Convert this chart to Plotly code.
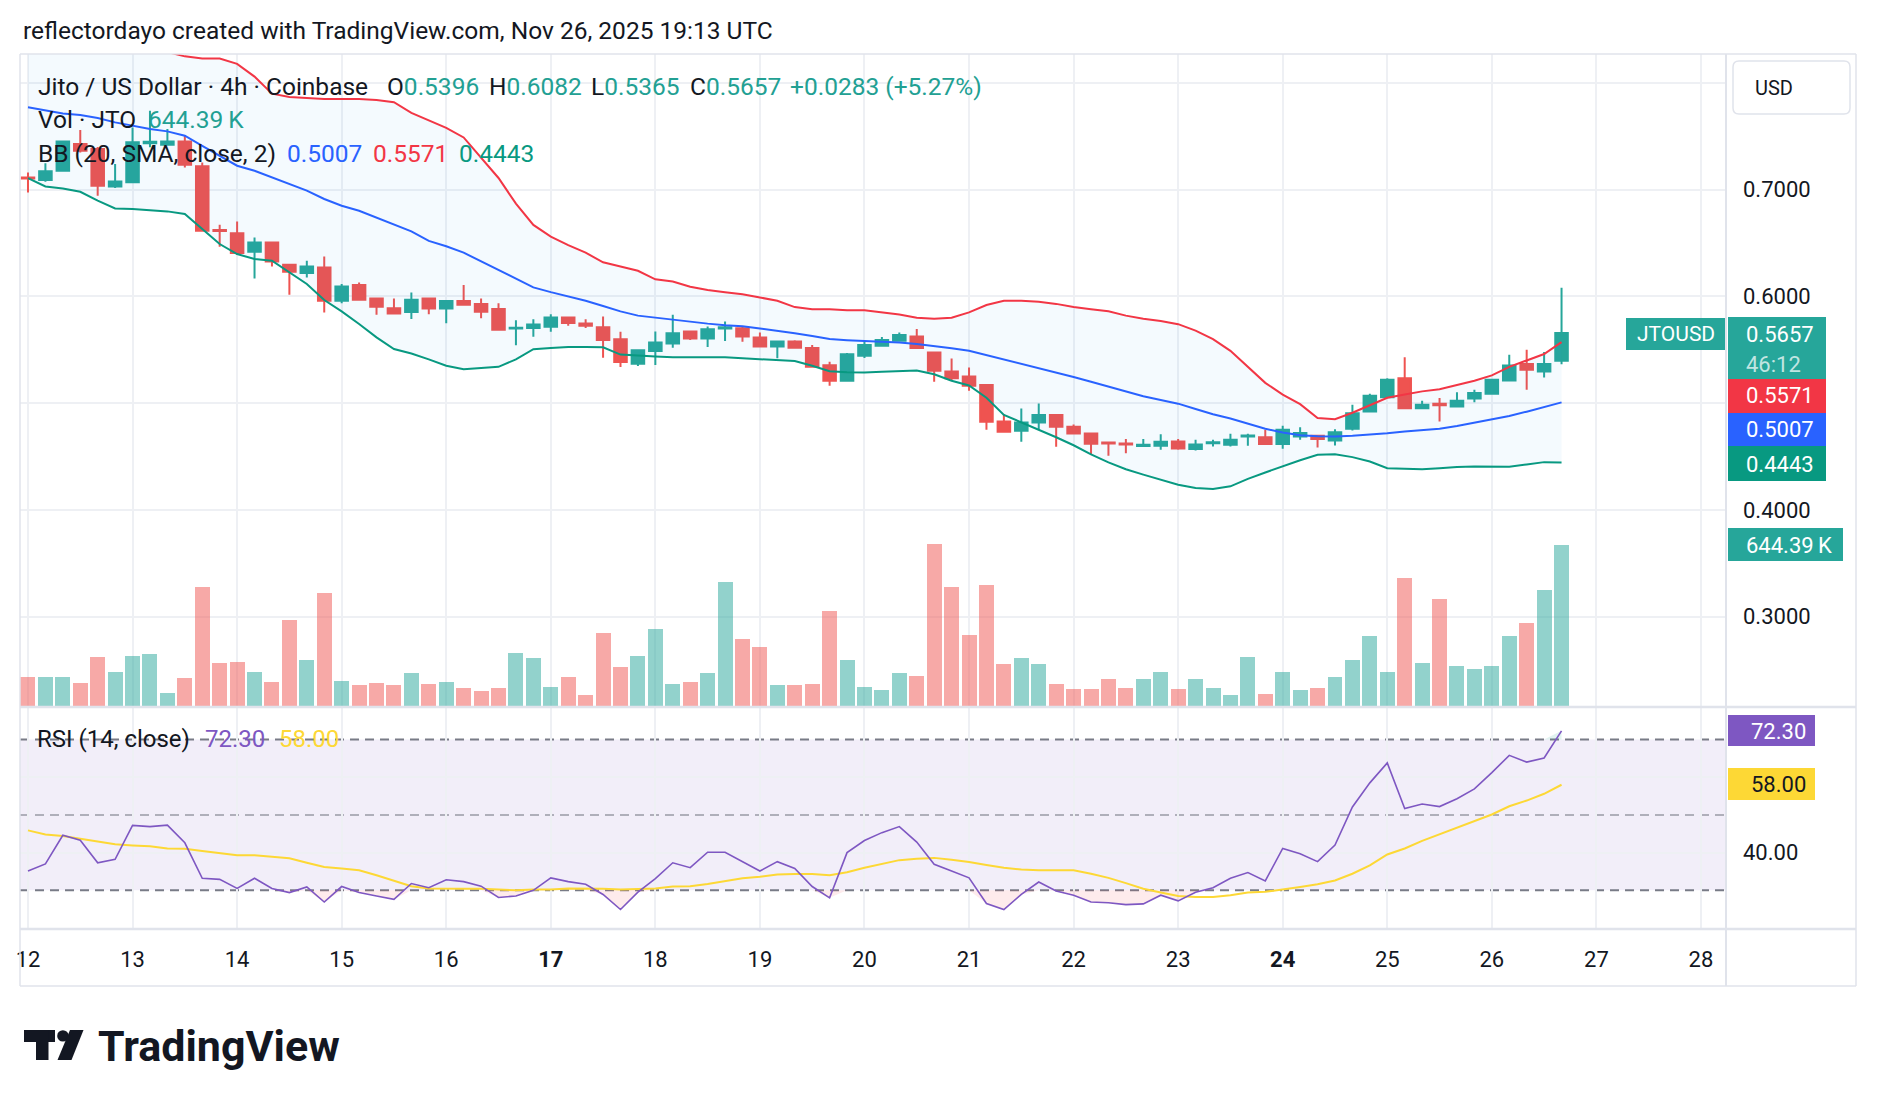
import plotly.graph_objects as go
import pandas as pd

# ---------------- data ----------------
times = pd.date_range("2025-11-12 00:00", periods=89, freq="4h")

opens = [0.7115, 0.7090, 0.7178, 0.7428, 0.7381, 0.7031, 0.7069, 0.7436, 0.7422, 0.7453,
         0.7219, 0.6622, 0.6591, 0.6419, 0.6506, 0.6297, 0.6219, 0.6272, 0.5960, 0.6107,
         0.5981, 0.5888, 0.5853, 0.5981, 0.5887, 0.5956, 0.5928, 0.5881, 0.5699, 0.5705,
         0.5715, 0.5803, 0.5746, 0.5712, 0.5599, 0.5370, 0.5489, 0.5558, 0.5671, 0.5605,
         0.5699, 0.5702, 0.5614, 0.5530, 0.5577, 0.5516, 0.5356, 0.5209, 0.5444, 0.5538,
         0.5584, 0.5625, 0.5475, 0.5297, 0.5250, 0.5169, 0.4828, 0.4741, 0.4819, 0.4888,
         0.4778, 0.4716, 0.4631, 0.4622, 0.4597, 0.4600, 0.4641, 0.4570, 0.4625, 0.4609,
         0.4688, 0.4681, 0.4616, 0.4688, 0.4694, 0.4650, 0.4759, 0.4922, 0.5056, 0.5234,
         0.4953, 0.4994, 0.4969, 0.5044, 0.5088, 0.5213, 0.5366, 0.5297, 0.5396]
highs = [0.7162, 0.7247, 0.7462, 0.7560, 0.7400, 0.7240, 0.7584, 0.7740, 0.7569, 0.7506,
         0.7256, 0.6672, 0.6703, 0.6553, 0.6510, 0.6300, 0.6334, 0.6375, 0.6116, 0.6131,
         0.5981, 0.5981, 0.6036, 0.5981, 0.5966, 0.6107, 0.5981, 0.5937, 0.5777, 0.5787,
         0.5834, 0.5803, 0.5787, 0.5812, 0.5668, 0.5505, 0.5671, 0.5828, 0.5677, 0.5718,
         0.5765, 0.5718, 0.5661, 0.5577, 0.5589, 0.5544, 0.5388, 0.5469, 0.5584, 0.5619,
         0.5663, 0.5694, 0.5475, 0.5419, 0.5334, 0.5178, 0.4897, 0.4950, 0.4997, 0.4888,
         0.4800, 0.4716, 0.4631, 0.4663, 0.4663, 0.4709, 0.4663, 0.4656, 0.4656, 0.4713,
         0.4713, 0.4750, 0.4788, 0.4775, 0.4694, 0.4756, 0.4984, 0.5088, 0.5234, 0.5431,
         0.5022, 0.5047, 0.5103, 0.5125, 0.5228, 0.5453, 0.5500, 0.5478, 0.6082]
lows = [0.6975, 0.7075, 0.7175, 0.7350, 0.6944, 0.7016, 0.7062, 0.7397, 0.7412, 0.7209,
        0.6612, 0.6466, 0.6388, 0.6169, 0.6281, 0.6016, 0.6178, 0.5850, 0.5935, 0.5969,
        0.5829, 0.5841, 0.5788, 0.5834, 0.5749, 0.5922, 0.5796, 0.5687, 0.5542, 0.5621,
        0.5668, 0.5724, 0.5705, 0.5426, 0.5339, 0.5348, 0.5357, 0.5520, 0.5592, 0.5527,
        0.5583, 0.5574, 0.5530, 0.5420, 0.5520, 0.5341, 0.5163, 0.5209, 0.5422, 0.5528,
        0.5575, 0.5516, 0.5200, 0.5216, 0.5116, 0.4750, 0.4731, 0.4638, 0.4756, 0.4591,
        0.4716, 0.4513, 0.4506, 0.4531, 0.4597, 0.4563, 0.4563, 0.4556, 0.4594, 0.4594,
        0.4600, 0.4616, 0.4572, 0.4656, 0.4584, 0.4603, 0.4744, 0.4922, 0.5056, 0.4953,
        0.4944, 0.4828, 0.4969, 0.5009, 0.5088, 0.5213, 0.5125, 0.5241, 0.5365]
closes = [0.7105, 0.7172, 0.7453, 0.7365, 0.7037, 0.7078, 0.7444, 0.7450, 0.7453, 0.7234,
          0.6616, 0.6612, 0.6406, 0.6506, 0.6328, 0.6231, 0.6281, 0.5960, 0.6094, 0.5969,
          0.5903, 0.5841, 0.5968, 0.5887, 0.5956, 0.5922, 0.5856, 0.5687, 0.5706, 0.5737,
          0.5803, 0.5752, 0.5724, 0.5592, 0.5386, 0.5495, 0.5567, 0.5655, 0.5605, 0.5693,
          0.5712, 0.5624, 0.5530, 0.5577, 0.5520, 0.5341, 0.5209, 0.5459, 0.5544, 0.5591,
          0.5638, 0.5516, 0.5303, 0.5234, 0.5163, 0.4825, 0.4731, 0.4819, 0.4888, 0.4778,
          0.4716, 0.4619, 0.4622, 0.4613, 0.4609, 0.4638, 0.4575, 0.4612, 0.4634, 0.4656,
          0.4697, 0.4616, 0.4750, 0.4719, 0.4663, 0.4728, 0.4906, 0.5069, 0.5219, 0.4953,
          0.4984, 0.4981, 0.5022, 0.5094, 0.5219, 0.5353, 0.5313, 0.5366, 0.5657]
volume_k = [119, 119, 119, 95, 200, 138, 205, 210, 57, 115,
            477, 177, 181, 138, 100, 348, 186, 453, 105, 86,
            95, 86, 134, 91, 100, 76, 62, 76, 215, 196,
            81, 119, 48, 296, 158, 205, 310, 91, 100, 134,
            496, 272, 239, 86, 86, 91, 382, 186, 81, 67,
            134, 124, 649, 477, 286, 487, 172, 196, 172, 91,
            72, 72, 110, 76, 110, 138, 72, 110, 76, 48,
            200, 53, 138, 67, 76, 119, 186, 282, 138, 515,
            177, 430, 162, 153, 162, 282, 334, 468, 644.39]
bb_upper = [0.843, 0.845, 0.842, 0.842, 0.845, 0.844, 0.838, 0.833, 0.829, 0.825,
            0.823, 0.823, 0.818, 0.806, 0.790, 0.787, 0.786, 0.785, 0.785, 0.785,
            0.784, 0.782, 0.772, 0.765, 0.758, 0.749, 0.730, 0.711, 0.687, 0.667,
            0.656, 0.648, 0.641, 0.632, 0.628, 0.624, 0.616, 0.614, 0.609, 0.606,
            0.604, 0.602, 0.599, 0.596, 0.590, 0.588, 0.588, 0.587, 0.587, 0.585,
            0.583, 0.580, 0.579, 0.580, 0.585, 0.592, 0.596, 0.596, 0.595, 0.593,
            0.590, 0.588, 0.586, 0.582, 0.579, 0.577, 0.574, 0.568, 0.560, 0.549,
            0.534, 0.519, 0.508, 0.499, 0.486, 0.485, 0.491, 0.498, 0.505, 0.508,
            0.511, 0.513, 0.517, 0.521, 0.526, 0.534, 0.540, 0.546, 0.5571]
bb_basis = [0.7772, 0.7740, 0.7715, 0.7700, 0.7672, 0.7631, 0.7600, 0.7569, 0.7547, 0.7506,
            0.7412, 0.7319, 0.7225, 0.7178, 0.7116, 0.7053, 0.6991, 0.6913, 0.6850, 0.6803,
            0.6741, 0.6678, 0.6610, 0.6520, 0.6470, 0.6410, 0.6330, 0.6250, 0.6170, 0.6085,
            0.6040, 0.6000, 0.5960, 0.5910, 0.5860, 0.5820, 0.5800, 0.5780, 0.5760, 0.5745,
            0.5730, 0.5720, 0.5700, 0.5680, 0.5655, 0.5630, 0.5600, 0.5590, 0.5583, 0.5576,
            0.5569, 0.5553, 0.5535, 0.5515, 0.5490, 0.5450, 0.5410, 0.5370, 0.5330, 0.5290,
            0.5245, 0.5200, 0.5155, 0.5110, 0.5065, 0.5030, 0.4995, 0.4945, 0.4895, 0.4855,
            0.4805, 0.4760, 0.4725, 0.4700, 0.4690, 0.4688, 0.4695, 0.4705, 0.4718, 0.4735,
            0.4745, 0.4760, 0.4785, 0.4815, 0.4845, 0.4880, 0.4920, 0.4960, 0.5007]
bb_lower = [0.7109, 0.7031, 0.7012, 0.6981, 0.6897, 0.6825, 0.6819, 0.6809, 0.6797, 0.6772,
            0.6631, 0.6491, 0.6397, 0.6350, 0.6335, 0.6225, 0.6116, 0.5966, 0.5860, 0.5741,
            0.5616, 0.5507, 0.5465, 0.5410, 0.5350, 0.5317, 0.5325, 0.5340, 0.5410, 0.5505,
            0.5517, 0.5527, 0.5526, 0.5524, 0.5455, 0.5443, 0.5437, 0.5430, 0.5430, 0.5430,
            0.5430, 0.5420, 0.5410, 0.5406, 0.5395, 0.5350, 0.5298, 0.5290, 0.5288, 0.5295,
            0.5302, 0.5305, 0.5270, 0.5210, 0.5165, 0.5050, 0.4890, 0.4820, 0.4756, 0.4680,
            0.4605, 0.4520, 0.4444, 0.4380, 0.4330, 0.4280, 0.4235, 0.4205, 0.4195, 0.4220,
            0.4290, 0.4350, 0.4410, 0.4465, 0.4515, 0.4520, 0.4494, 0.4453, 0.4390, 0.4383,
            0.4381, 0.4390, 0.4402, 0.4406, 0.4406, 0.4404, 0.4425, 0.4447, 0.4443]
rsi = [35.1, 37.0, 44.6, 43.3, 37.3, 38.2, 47.2, 46.9, 47.3, 42.6,
       33.2, 32.9, 30.5, 33.2, 30.5, 29.4, 30.9, 26.9, 31.0, 29.4,
       28.5, 27.6, 31.8, 30.7, 32.8, 32.3, 31.1, 28.1, 28.5, 30.0,
       33.3, 32.3, 31.6, 28.9, 24.9, 29.5, 33.1, 37.3, 36.0, 40.1,
       40.1, 37.6, 35.1, 37.6, 35.8, 31.0, 28.0, 40.0, 43.2, 45.3,
       46.9, 42.8, 36.9, 35.1, 33.3, 26.5, 24.9, 28.9, 32.2, 29.8,
       28.7, 26.9, 26.7, 26.2, 26.4, 28.7, 27.2, 29.5, 30.7, 33.2,
       34.7, 32.5, 41.1, 39.7, 37.6, 42.0, 52.1, 58.5, 63.8, 51.7,
       52.9, 52.2, 54.3, 56.9, 61.2, 65.8, 64.0, 65.1, 72.3]
rsi_ma = [45.9, 44.8, 44.4, 43.7, 42.8, 42.2, 41.9, 41.7, 41.1, 41.0,
          40.4, 39.8, 39.3, 39.3, 38.9, 38.5, 37.3, 36.2, 35.8, 35.3,
          34.0, 32.5, 31.1, 30.5, 30.4, 30.4, 30.4, 30.2, 30.0, 30.2,
          30.2, 30.5, 30.5, 30.4, 30.2, 30.4, 30.5, 31.0, 31.1, 31.7,
          32.4, 33.2, 33.6, 34.2, 34.3, 34.3, 34.0, 34.8, 36.0, 37.0,
          38.0, 38.4, 38.6, 38.1, 37.5, 36.7, 36.0, 35.5, 35.3, 35.3,
          35.3, 34.4, 33.3, 31.9, 30.4, 29.4, 28.5, 28.2, 28.2, 28.7,
          29.4, 29.6, 30.2, 30.9, 31.6, 32.6, 34.4, 36.6, 39.5, 41.1,
          43.1, 44.8, 46.6, 48.4, 50.1, 52.3, 53.8, 55.6, 58.0]

day_ticks = pd.date_range("2025-11-12", "2025-11-28", freq="D")
day_labels = ["12", "13", "14", "15", "16", "<b>17</b>", "18", "19", "20",
              "21", "22", "23", "<b>24</b>", "25", "26", "27", "28"]
price_ticks = [0.3, 0.4, 0.5, 0.6, 0.7, 0.8]
price_labels = ["0.3000", "0.4000", "", "0.6000", "0.7000", ""]
rsi_ticks = [40, 60]
rsi_labels = ["40.00", ""]

# ---------------- styling / layout ----------------
W, H = 1878, 1106
PL, PR, PT, PB = 20, 1726, 54, 928          # plot area edges in pixels
SPLIT = 707                                   # pane separator
FONT = "Roboto, 'Open Sans', sans-serif"
TXT = "#131722"
UP, DN = "#26a69a", "#ef5350"
GRID = "#eef0f4"
FRAME = "#e0e3eb"
LEG = 24.5


def fx(px):
    return (px - PL) / (PR - PL)


def fy(py):
    return (PB - py) / (PB - PT)


fig = go.Figure()

# Bollinger bands
fig.add_trace(go.Scatter(x=times, y=bb_upper, mode="lines",
                         line=dict(color="#F23645", width=2), hoverinfo="skip"))
fig.add_trace(go.Scatter(x=times, y=bb_lower, mode="lines", fill="tonexty",
                         fillcolor="rgba(33,150,243,0.05)",
                         line=dict(color="#089981", width=2), hoverinfo="skip"))
fig.add_trace(go.Scatter(x=times, y=bb_basis, mode="lines",
                         line=dict(color="#2962FF", width=2), hoverinfo="skip"))

# candles
fig.add_trace(go.Candlestick(
    x=times, open=opens, high=highs, low=lows, close=closes,
    increasing=dict(line=dict(color=UP, width=2), fillcolor=UP),
    decreasing=dict(line=dict(color=DN, width=2), fillcolor=DN),
    whiskerwidth=0))

# volume (overlay axis)
vol_colors = ["rgba(38,166,154,0.5)" if c >= o else "rgba(239,83,80,0.5)"
              for o, c in zip(opens, closes)]
fig.add_trace(go.Bar(x=times, y=volume_k, marker=dict(color=vol_colors, line=dict(width=0)),
                     width=0.86 * 4 * 3600 * 1000, yaxis="y3", hoverinfo="skip"))

# RSI pane
rsi_low_fill = [min(v, 30) for v in rsi]
rsi_high_fill = [max(v, 70) for v in rsi]
fig.add_trace(go.Scatter(x=times, y=[30] * len(rsi), yaxis="y2", mode="lines",
                         line=dict(width=0), hoverinfo="skip"))
fig.add_trace(go.Scatter(x=times, y=rsi_low_fill, yaxis="y2", mode="lines", fill="tonexty",
                         fillcolor="rgba(242,54,69,0.10)", line=dict(width=0), hoverinfo="skip"))
fig.add_trace(go.Scatter(x=times, y=[70] * len(rsi), yaxis="y2", mode="lines",
                         line=dict(width=0), hoverinfo="skip"))
fig.add_trace(go.Scatter(x=times, y=rsi_high_fill, yaxis="y2", mode="lines", fill="tonexty",
                         fillcolor="rgba(8,153,129,0.12)", line=dict(width=0), hoverinfo="skip"))
fig.add_trace(go.Scatter(x=times, y=rsi_ma, yaxis="y2", mode="lines",
                         line=dict(color="#FDD835", width=2), hoverinfo="skip"))
fig.add_trace(go.Scatter(x=times, y=rsi, yaxis="y2", mode="lines",
                         line=dict(color="#7E57C2", width=1.6), hoverinfo="skip"))

shapes = []
# RSI background band and level lines
shapes.append(dict(type="rect", xref="paper", yref="y2", x0=0, x1=1, y0=30, y1=70,
                   fillcolor="rgba(126,87,194,0.10)", line=dict(width=0), layer="below"))
for lvl, col in [(70, "#787B86"), (50, "rgba(120,123,134,0.55)"), (30, "#787B86")]:
    shapes.append(dict(type="line", xref="paper", yref="y2", x0=0, x1=1, y0=lvl, y1=lvl,
                       line=dict(color=col, width=2, dash="9px,6px"), layer="below"))

# frame and separators
RIGHT_EDGE, BOTTOM_EDGE = 1856, 986


def hline(py, x0, x1, w=1.5):
    shapes.append(dict(type="line", xref="paper", yref="paper", x0=fx(x0), x1=fx(x1),
                       y0=fy(py), y1=fy(py), line=dict(color=FRAME, width=w)))


def vline(px, y0, y1, w=1.5):
    shapes.append(dict(type="line", xref="paper", yref="paper", x0=fx(px), x1=fx(px),
                       y0=fy(y0), y1=fy(y1), line=dict(color=FRAME, width=w)))


hline(PT, PL, RIGHT_EDGE)
hline(SPLIT, PL, RIGHT_EDGE, 2.5)
hline(PB + 1, PL, RIGHT_EDGE, 2.5)
hline(BOTTOM_EDGE, PL, RIGHT_EDGE)
vline(PL, PT, BOTTOM_EDGE)
vline(PR, PT, BOTTOM_EDGE, 2)
vline(RIGHT_EDGE, PT, BOTTOM_EDGE)


def rect(x0, y0, x1, y1, color, line=None):
    shapes.append(dict(type="rect", xref="paper", yref="paper",
                       x0=fx(x0), x1=fx(x1), y0=fy(y1), y1=fy(y0),
                       fillcolor=color, line=line or dict(width=0), layer="above"))


# USD box (rounded)
ux0, uy0, ux1, uy1, rr = 1733, 61, 1850, 114, 6
usd_path = (f"M {fx(ux0+rr)} {fy(uy0)} L {fx(ux1-rr)} {fy(uy0)} Q {fx(ux1)} {fy(uy0)} {fx(ux1)} {fy(uy0+rr)} "
            f"L {fx(ux1)} {fy(uy1-rr)} Q {fx(ux1)} {fy(uy1)} {fx(ux1-rr)} {fy(uy1)} "
            f"L {fx(ux0+rr)} {fy(uy1)} Q {fx(ux0)} {fy(uy1)} {fx(ux0)} {fy(uy1-rr)} "
            f"L {fx(ux0)} {fy(uy0+rr)} Q {fx(ux0)} {fy(uy0)} {fx(ux0+rr)} {fy(uy0)} Z")
shapes.append(dict(type="path", xref="paper", yref="paper", path=usd_path,
                   fillcolor="white", line=dict(color=FRAME, width=1.5)))

# badges
rect(1626, 318, 1725, 350, UP)
rect(1728, 317, 1826, 379, UP)
rect(1728, 379, 1826, 413, "#F23645")
rect(1728, 413, 1826, 446, "#2962FF")
rect(1728, 446, 1826, 481, "#089981")
rect(1728, 528, 1843, 561, UP)
rect(1728, 715, 1815, 746, "#7E57C2")
rect(1728, 768, 1815, 800, "#FDD835")

# TradingView logo mark
LOGO = "#131722"
rect(24, 1030, 55, 1042, LOGO)
rect(36, 1030, 48.5, 1060, LOGO)
shapes.append(dict(type="circle", xref="paper", yref="paper", x0=fx(57.2), x1=fx(68.6),
                   y0=fy(1041.6), y1=fy(1030.2), fillcolor=LOGO, line=dict(width=0)))
slash = (f"M {fx(70)} {fy(1030)} L {fx(83.5)} {fy(1030)} L {fx(71.5)} {fy(1060)} "
         f"L {fx(57.5)} {fy(1060)} Z")
shapes.append(dict(type="path", xref="paper", yref="paper", path=slash,
                   fillcolor=LOGO, line=dict(width=0)))

annotations = []


def text(px, py, s, size=LEG, color=TXT, anchor="left", weight=None):
    f = dict(family=FONT, size=size, color=color)
    if weight:
        f["weight"] = weight
    annotations.append(dict(xref="paper", yref="paper", x=fx(px), y=fy(py), text=s,
                            showarrow=False, xanchor=anchor, yanchor="middle", font=f))


TEAL_T = "#22a093"


def kv(k, v):
    return f"{k}<span style='color:{TEAL_T}'>{v}</span>"


text(21, 30, "reflectordayo created with TradingView.com, Nov 26, 2025 19:13 UTC", 24.5)
text(36, 86, "Jito / US Dollar · 4h · Coinbase")
text(385, 86, kv("O", "0.5396"))
text(487, 86, kv("H", "0.6082"))
text(589, 86, kv("L", "0.5365"))
text(688, 86, kv("C", "0.5657"))
text(788, 86, "+0.0283 (+5.27%)", color=TEAL_T)
text(36, 120, "Vol · JTO")
text(146, 120, "644.39\u2009K", color=TEAL_T)
text(36, 153, "BB (20, SMA, close, 2)")
text(285, 153, "0.5007", color="#2962FF")
text(371, 153, "0.5571", color="#F23645")
text(457, 153, "0.4443", color="#089981")
text(35, 739, "RSI (14, close)", 24)
text(203, 739, "72.30", 24, color="#7E57C2")
text(277, 739, "58.00", 24, color="#FDD835")

text(1753, 88, "USD", 20)
text(1675.5, 334, "JTOUSD", 21, "white", "center")
text(1744, 334, "0.5657", 22, "white")
text(1744, 364, "46:12", 22, "rgba(255,255,255,0.72)")
text(1744, 396, "0.5571", 22, "white")
text(1744, 430, "0.5007", 22, "white")
text(1744, 464, "0.4443", 22, "white")
text(1744, 545, "644.39\u2009K", 22, "white")
text(1749, 731, "72.30", 22, "white")
text(1749, 784, "58.00", 22, TXT)

text(96, 1046, "TradingView", 43, "#131722", weight=700)

fig.update_layout(
    width=W, height=H,
    margin=dict(l=PL, r=W - PR, t=PT, b=H - PB, pad=0),
    paper_bgcolor="white", plot_bgcolor="white",
    showlegend=False, boxgap=0.28, boxgroupgap=0, bargap=0,
    font=dict(family=FONT, color=TXT),
    xaxis=dict(type="date", anchor="y2",
               range=["2025-11-11 22:10", "2025-11-28 05:45"],
               tickvals=list(day_ticks), ticktext=day_labels,
               showgrid=True, gridcolor=GRID, gridwidth=1.5, zeroline=False,
               showline=False, ticks="", ticklabelstandoff=16,
               tickfont=dict(family=FONT, size=22, color=TXT),
               rangeslider=dict(visible=False), fixedrange=True),
    yaxis=dict(domain=[fy(SPLIT), 1], range=[0.2152, 0.8272], side="right", anchor="x",
               tickvals=price_ticks, ticktext=price_labels,
               showgrid=True, gridcolor=GRID, gridwidth=1.5, zeroline=False,
               showline=False, ticks="", ticklabelstandoff=16,
               tickfont=dict(family=FONT, size=22, color=TXT)),
    yaxis2=dict(domain=[0, fy(SPLIT)], range=[20.0, 78.62], side="right", anchor="x",
                tickvals=rsi_ticks, ticktext=rsi_labels,
                showgrid=True, gridcolor=GRID, gridwidth=1.5, zeroline=False,
                showline=False, ticks="", ticklabelstandoff=16,
                tickfont=dict(family=FONT, size=22, color=TXT)),
    yaxis3=dict(overlaying="y", range=[0, 2601], visible=False, anchor="x"),
    shapes=shapes, annotations=annotations,
)

fig.write_html("out.html")
